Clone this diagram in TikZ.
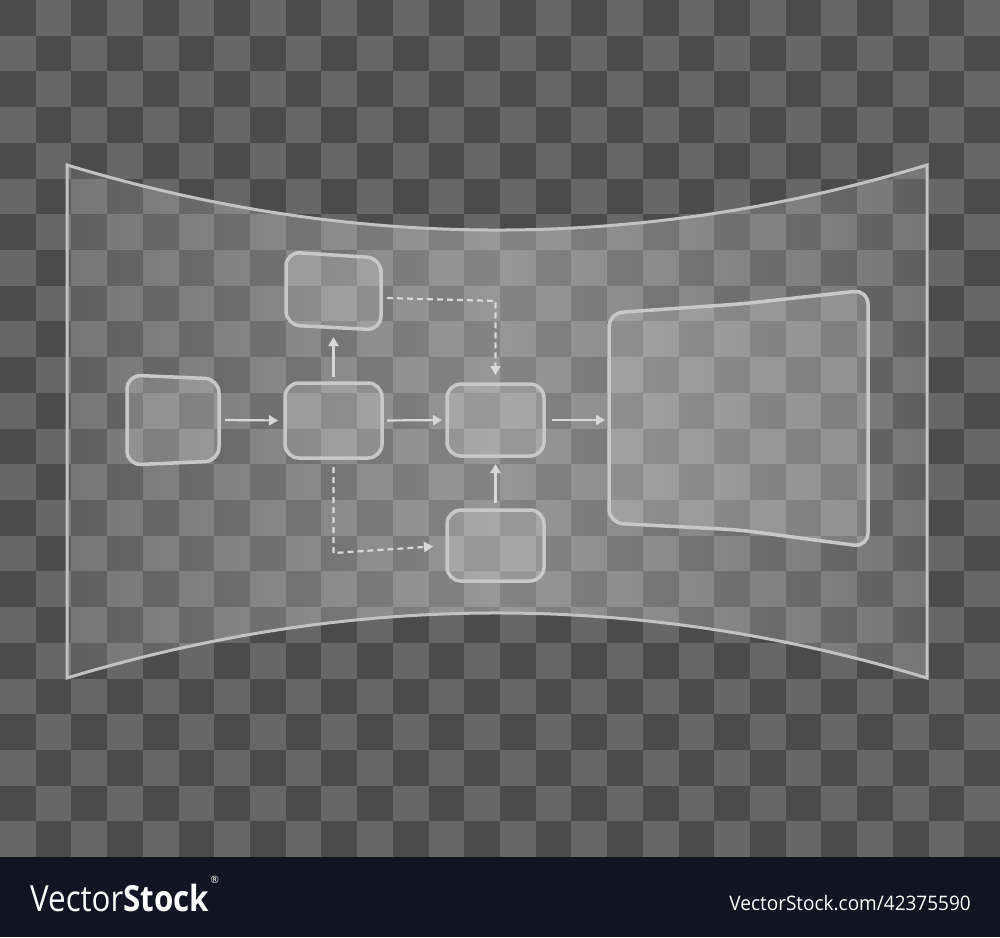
\documentclass[tikz,border=0pt]{standalone}
\usepackage{fontspec}
\setmainfont{Open Sans}
\usetikzlibrary{arrows.meta,fadings,calc}
\definecolor{chkdark}{HTML}{4B4B4B}
\definecolor{chklight}{HTML}{676767}
\definecolor{bandc}{HTML}{121424}
\definecolor{panelline}{HTML}{C2C2C2}
\definecolor{boxline}{HTML}{C8C8C8}
\definecolor{arrowc}{HTML}{D8D8D8}
\tikzfading[name=midband, left color=transparent!100, right color=transparent!100, middle color=transparent!0]
\begin{document}
\begin{tikzpicture}[x=1pt,y=-1pt,
  boxnode/.style={draw=boxline, line width=3.5pt, rounded corners=14pt, fill=white, fill opacity=0.17, inner sep=0pt, outer sep=0pt},
  skewbox/.style={draw=boxline, line width=3.5pt, rounded corners=14pt, fill=white, fill opacity=0.17},
  anchorbox/.style={inner sep=0pt, outer sep=0pt},
  arr/.style={draw=arrowc, line width=2.2pt, -{Triangle[length=9pt,width=10pt]}},
  dasharr/.style={draw=arrowc, line width=2.2pt, dash pattern=on 6pt off 4pt, -{Triangle[length=9pt,width=10pt]}},
  paneledge/.style={draw=panelline, line width=3pt}]
\useasboundingbox (0,0) rectangle (1000,937);
% checkerboard
\fill[chkdark] (0,0) rectangle (1000,857.2);
\foreach \r in {0,...,23}{
  \pgfmathtruncatemacro\s{mod(\r,2)}
  \foreach \c in {0,...,13}{
    \fill[chklight] ({(2*\c+1-\s)*35.7143},{\r*35.7143}) rectangle ++(35.7143,35.7143);
  }
}
% panel
\fill[white, opacity=0.11] (67,165) .. controls (353.7,251.7) and (640.3,251.7) .. (927,165) -- (927,678) .. controls (640.3,591.3) and (353.7,591.3) .. (67,678) -- cycle;
\fill[white, opacity=0.24, path fading=midband] (67,165) .. controls (353.7,251.7) and (640.3,251.7) .. (927,165) -- (927,678) .. controls (640.3,591.3) and (353.7,591.3) .. (67,678) -- cycle;
\draw[paneledge, line join=miter] (67,165) .. controls (353.7,251.7) and (640.3,251.7) .. (927,165) -- (927,678) .. controls (640.3,591.3) and (353.7,591.3) .. (67,678) -- cycle;
% skewed boxes
\draw[skewbox] (127,375) -- (219,379) -- (219,461) -- (127,465) -- cycle;
\draw[skewbox] (286,252) -- (381,258) -- (381,330) -- (286,325) -- cycle;
\draw[skewbox] (609,313) -- (740,304) -- (868,290) -- (868,547) -- (740,530) -- (609,523) -- cycle;
\node[anchorbox, minimum width=92pt, minimum height=86pt] (A) at (173,420) {};
\node[anchorbox, minimum width=95pt, minimum height=74pt] (B) at (333.5,291) {};
\node[anchorbox, minimum width=259pt, minimum height=240pt] (F) at (738.5,420) {};
% regular boxes
\node[boxnode, minimum width=97pt, minimum height=75pt] (C) at (333.5,420.5) {};
\node[boxnode, minimum width=97pt, minimum height=72pt] (D) at (495.5,420) {};
\node[boxnode, minimum width=97pt, minimum height=71pt] (E) at (495.5,545.5) {};
% arrows
\draw[arr, shorten <=6pt, shorten >=7pt] (A.east) -- (C.west);
\draw[arr, shorten <=5pt, shorten >=5pt] (C.east) -- (D.west);
\draw[arr, shorten <=8pt, shorten >=4pt] (D.east) -- (F.west);
\draw[arr, shorten <=6pt, shorten >=9pt] (C.north) -- (C.north |- B.south);
\draw[arr, shorten <=7pt, shorten >=8pt] (E.north) -- (D.south);
% dashed connectors
\coordinate (bd1) at ([shift={(6,7)}]B.east);
\coordinate (bd2) at (D.north |- 0,301);
\draw[dasharr, shorten >=9pt] (bd1) -- (bd2) -- (D.north);
\coordinate (ce) at (C.south |- 0,553);
\draw[dasharr, shorten <=9pt, shorten >=14pt] (C.south) -- (ce) -- (E.west);
% bottom band
\fill[bandc] (0,857.2) rectangle (1000,937);
\node[anchor=base west, text=white, inner sep=0pt] (logo) at (30,911)
  {\scalebox{0.87}[1]{\fontsize{36}{36}\selectfont Vector\textbf{Stock}}};
\node[anchor=south west, text=white, inner sep=0pt] (reg) at ([xshift=1pt]logo.north east)
  {\fontsize{10}{10}\selectfont ®};
\node[anchor=base east, text=white, inner sep=0pt] (url) at (971,910)
  {\scalebox{0.95}[1]{\fontsize{20}{20}\selectfont VectorStock.com/42375590}};
\end{tikzpicture}
\end{document}
